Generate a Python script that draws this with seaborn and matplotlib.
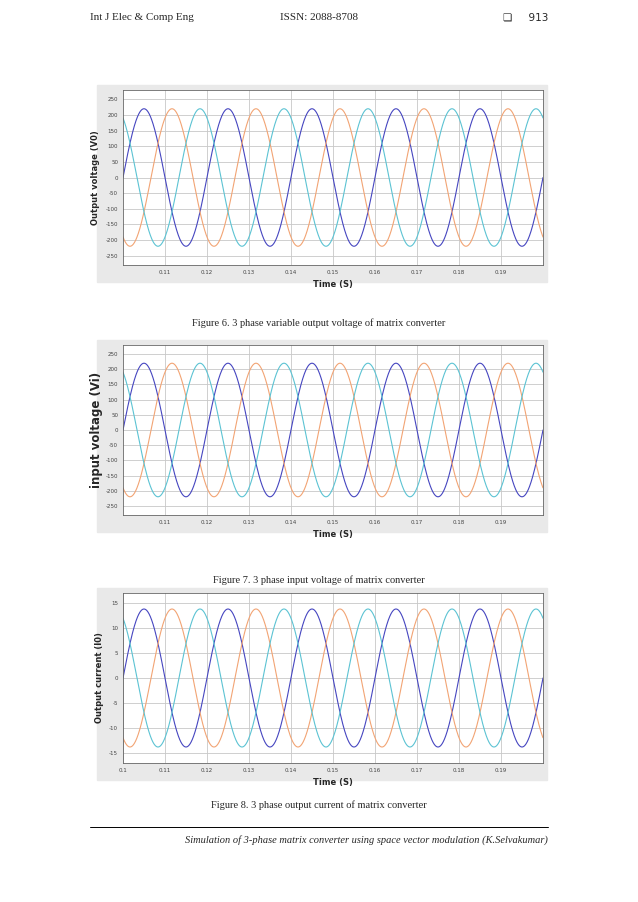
import matplotlib
matplotlib.use("Agg")
import matplotlib.pyplot as plt
import matplotlib.patches as mpatches
import numpy as np
import pandas as pd
import seaborn as sns

# waveform parameters (50 Hz, 3 phase)
phases = ['A', 'B', 'C']
phase_deg = [0, -120, -240]
colors = ['#4646c0', '#f2a474', '#5cc3d3']
freq_hz = 50
t_start, t_end = 0.1, 0.2
volt_out_amp = 220
volt_in_amp = 220
curr_out_amp = 13.8

time_ticks = [0.11, 0.12, 0.13, 0.14, 0.15, 0.16, 0.17, 0.18, 0.19]
volt_ticks = [-250, -200, -150, -100, -50, 0, 50, 100, 150, 200, 250]
curr_ticks = [-15, -10, -5, 0, 5, 10, 15]

W, H = 638, 902


def make_df(amp):
    t = np.linspace(t_start, t_end, 2000)
    rows = []
    for ph, d in zip(phases, phase_deg):
        y = amp * np.sin(2 * np.pi * freq_hz * (t - t_start) + np.deg2rad(d))
        rows.append(pd.DataFrame({'t': t, 'v': y, 'phase': ph}))
    return pd.concat(rows)


def panel(fig, top, bottom, amp, ticks, ylim, ylabel, xticks, ylab_style):
    # grey matlab figure frame
    fig.patches.append(mpatches.Rectangle((97 / W, 1 - (bottom + 17) / H), 450 / W, (bottom - top + 22) / H,
                                          transform=fig.transFigure, color='#e9e9e9', zorder=-5))
    ax = fig.add_axes([123 / W, 1 - bottom / H, 420 / W, (bottom - top) / H])
    ax.set_zorder(2)
    sns.lineplot(data=make_df(amp), x='t', y='v', hue='phase', palette=colors, ax=ax,
                 legend=False, linewidth=0.8, estimator=None)
    ax.set_xlim(t_start, t_end)
    ax.set_ylim(*ylim)
    ax.set_xticks(xticks)
    ax.set_xticklabels([f'{x:g}' for x in xticks])
    ax.set_yticks(ticks)
    ax.tick_params(labelsize=4, colors='#444444', length=0)
    ax.grid(True, color='#c8c8c8', linewidth=0.6)
    for s in ax.spines.values():
        s.set_color('#666666')
        s.set_linewidth(0.6)
    ax.set_xlabel('Time (S)', fontsize=6, fontweight='bold', labelpad=4)
    ax.set_ylabel(ylabel, **ylab_style)
    return ax


sns.set_style("white")
plt.rcParams['font.family'] = ['DejaVu Sans']
plt.rcParams['axes.unicode_minus'] = False
fig = plt.figure(figsize=(W / 100, H / 100), dpi=100)

panel(fig, 90, 265, volt_out_amp, volt_ticks, (-280, 280), 'Output voltage (V0)', time_ticks,
      dict(fontsize=6, fontweight='bold', labelpad=4))
panel(fig, 345, 515, volt_in_amp, volt_ticks, (-280, 280), 'input voltage (Vi)', time_ticks,
      dict(fontsize=8.5, fontweight='bold', labelpad=2))
panel(fig, 593, 763, curr_out_amp, curr_ticks, (-17, 17), 'Output current (I0)', [0.1] + time_ticks,
      dict(fontsize=6, fontweight='bold', labelpad=4))

serif = 'Liberation Serif'
fig.text(90 / W, 1 - 18 / H, 'Int J Elec & Comp Eng', family=serif, fontsize=8, va='center')
fig.text(319 / W, 1 - 18 / H, 'ISSN: 2088-8708', family=serif, fontsize=8, va='center', ha='center')
fig.text(548 / W, 1 - 18 / H, '\u274f     913', family=['DejaVu Sans'], fontsize=7.5, va='center', ha='right')
fig.text(319 / W, 1 - 323 / H, 'Figure 6. 3 phase variable output voltage of matrix converter',
         family=serif, fontsize=7.5, ha='center', va='center')
fig.text(319 / W, 1 - 580 / H, 'Figure 7. 3 phase input voltage of matrix converter',
         family=serif, fontsize=7.5, ha='center', va='center')
fig.text(319 / W, 1 - 805 / H, 'Figure 8. 3 phase output current of matrix converter',
         family=serif, fontsize=7.5, ha='center', va='center')
fig.add_artist(plt.Line2D([90 / W, 548 / W], [1 - 827 / H, 1 - 827 / H], color='black', linewidth=0.7))
fig.text(548 / W, 1 - 840 / H, 'Simulation of 3-phase matrix converter using space vector modulation (K.Selvakumar)',
         family=serif, fontsize=7.5, style='italic', ha='right', va='center')

fig.savefig('out.png', dpi=100)
